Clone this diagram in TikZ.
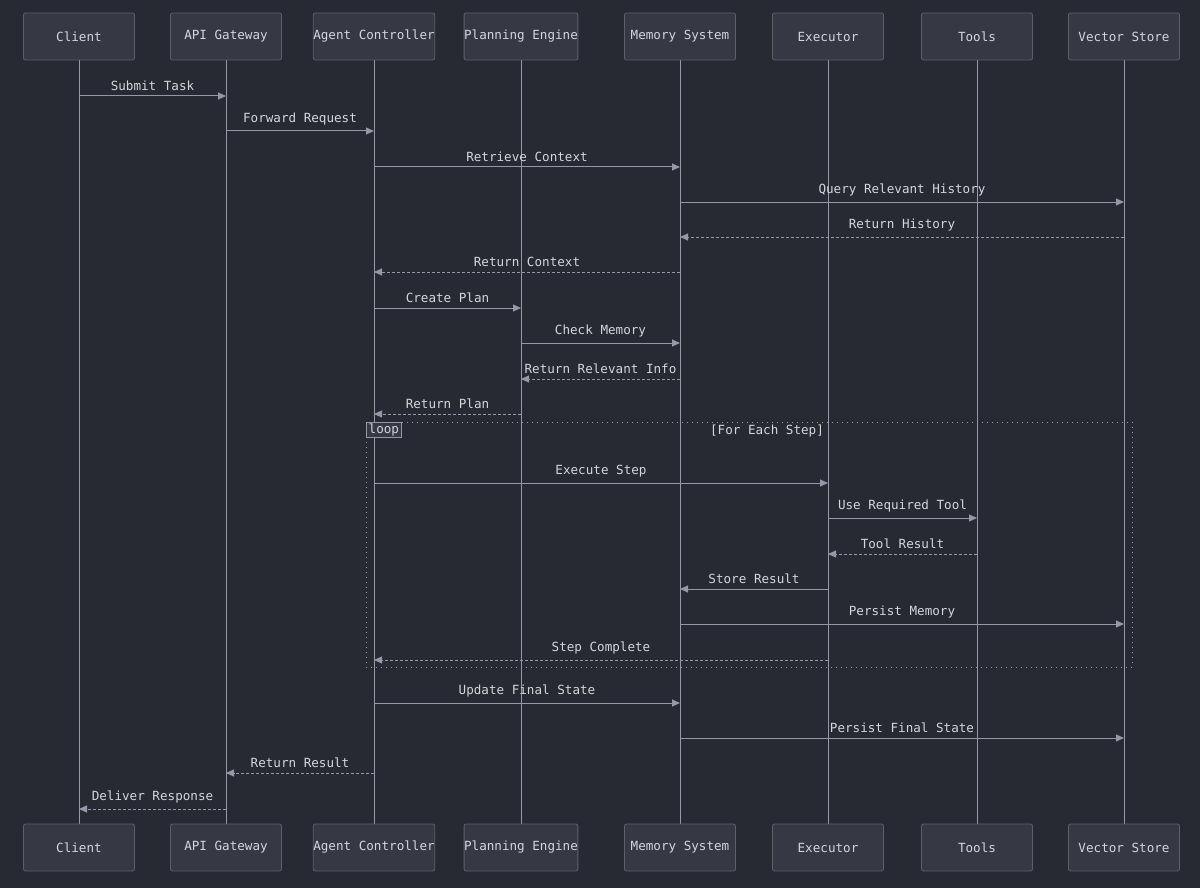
\documentclass[tikz,border=0pt]{standalone}
\usepackage{fontspec}
\setmonofont{DejaVu Sans Mono}
\usetikzlibrary{arrows.meta}
\definecolor{bg}{HTML}{282A33}
\definecolor{boxf}{HTML}{363944}
\definecolor{boxd}{HTML}{5C606C}
\definecolor{ln}{HTML}{9498A8}
\definecolor{tx}{HTML}{D4D6DC}
\tikzset{
 actor/.style={draw=boxd,fill=boxf,minimum width=55.5pt,minimum height=23.5pt,inner sep=0pt,font=\ttfamily\fontsize{6.3}{7}\selectfont,text=tx,rounded corners=1pt},
 life/.style={draw=ln,line width=0.5pt},
 msg/.style={draw=ln,line width=0.5pt,-{Triangle[length=4pt,width=3.5pt]}},
 ret/.style={msg,dash pattern=on 1.5pt off 1pt},
 lbl/.style={font=\ttfamily\fontsize{6.3}{7}\selectfont,text=tx,above=2.5pt,inner sep=0pt},
}
\begin{document}
\begin{tikzpicture}[x=0.5pt,y=-0.5pt]
\fill[bg] (0,0) rectangle (1200,888);
\useasboundingbox (0,0) rectangle (1200,888);
\foreach \n/\x/\t in {c/79/Client,g/226/API Gateway,a/374/Agent Controller,p/521/Planning Engine,m/680/Memory System,e/828/Executor,t/977/Tools,v/1124/Vector Store}{
 \draw[life] (\x,60) -- (\x,824);
 \node[actor] (\n T) at (\x,36.5) {\t};
 \node[actor] (\n B) at (\x,847.5) {\t};
 \coordinate (\n) at (\x,0);
}
\draw[ln,dotted,line width=0.5pt] (366,422) rectangle (1132,667);
\node[draw=ln,fill=boxf,line width=0.4pt,anchor=north west,minimum width=17.5pt,minimum height=7.5pt,inner sep=0pt,font=\ttfamily\fontsize{6.3}{7}\selectfont,text=tx] (loop) at (366,422) {loop};
\node[font=\ttfamily\fontsize{6.3}{7}\selectfont,text=tx] (cond) at (767,431) {[For Each Step]};
\foreach \s/\d/\y/\st/\t in {
 c/g/96/msg/Submit Task, g/a/131/msg/Forward Request, a/m/167/msg/Retrieve Context,
 m/v/202/msg/Query Relevant History, v/m/237/ret/Return History, m/a/272/ret/Return Context,
 a/p/308/msg/Create Plan, p/m/343/msg/Check Memory, m/p/379/ret/Return Relevant Info,
 p/a/414/ret/Return Plan, a/e/483/msg/Execute Step, e/t/518/msg/Use Required Tool,
 t/e/554/ret/Tool Result, e/m/589/msg/Store Result, m/v/624/msg/Persist Memory,
 e/a/660/ret/Step Complete, a/m/703/msg/Update Final State, m/v/738/msg/Persist Final State,
 a/g/773/ret/Return Result, g/c/809/ret/Deliver Response}{
 \draw[\st] (\s |- 0,\y) -- node[lbl]{\t} (\d |- 0,\y);
}
\end{tikzpicture}
\end{document}
